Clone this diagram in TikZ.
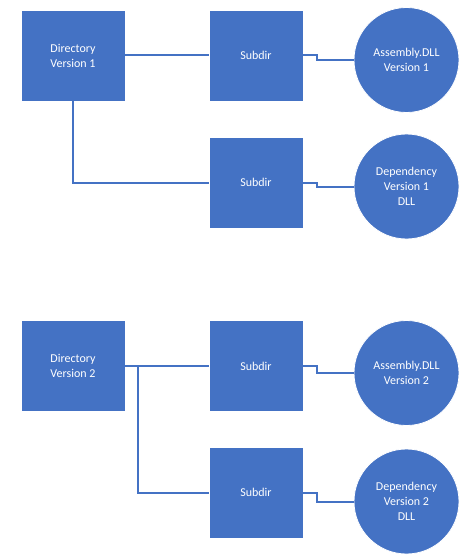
\documentclass[tikz,border=0pt]{standalone}
\usepackage{fontspec}
\setmainfont{Carlito}
\usepackage{xcolor}
\usetikzlibrary{positioning, calc}

\definecolor{officeblue}{HTML}{4472C4}

\tikzset{
  folder/.style={draw=white, line width=0.8pt, fill=officeblue, text=white,
    minimum height=91pt, align=center, font=\fontsize{12}{15}\selectfont},
  dirbox/.style={folder, minimum width=104pt},
  subbox/.style={folder, minimum width=94pt},
  dllbox/.style={circle, draw=white, line width=0.8pt, fill=officeblue, text=white,
    minimum size=105pt, inner sep=0pt, align=center, font=\fontsize{12}{15}\selectfont},
  link/.style={draw=officeblue, line width=2pt}
}

\begin{document}
\begin{tikzpicture}[x=1pt, y=-1pt]
  \useasboundingbox (0,0) rectangle (467,556);

  % Version 1
  \node[dirbox] (dir1) at (73,55.5) {Directory\\Version 1};
  \node[subbox] (sub1) at (256,55.5) {Subdir};
  \node[subbox] (sub2) at (256,182.5) {Subdir};
  \node[dllbox] (asm1) at (406.5,60) {Assembly.DLL\\Version 1};
  \node[dllbox] (dep1) at (406.5,186.5) {Dependency\\Version 1\\DLL};

  \draw[link] (dir1.east) -- (sub1.west);
  \draw[link] (dir1.south) |- (sub2.west);
  \draw[link] (sub1.east) -- ++(14,0) |- (asm1.west);
  \draw[link] (sub2.east) -- ++(14,0) |- (dep1.west);

  % Version 2
  \node[dirbox] (dir2) at (73,366) {Directory\\Version 2};
  \node[subbox] (sub3) at (256,366) {Subdir};
  \node[subbox] (sub4) at (256,492.5) {Subdir};
  \node[dllbox] (asm2) at (406.5,373) {Assembly.DLL\\Version 2};
  \node[dllbox] (dep2) at (406.5,501.5) {Dependency\\Version 2\\DLL};

  \draw[link] (dir2.east) -- (sub3.west);
  \coordinate (split2) at ($(dir2.east)+(13,0)$);
  \draw[link] (split2) |- (sub4.west);
  \draw[link] (sub3.east) -- ++(14,0) |- (asm2.west);
  \draw[link] (sub4.east) -- ++(14,0) |- (dep2.west);
\end{tikzpicture}
\end{document}
